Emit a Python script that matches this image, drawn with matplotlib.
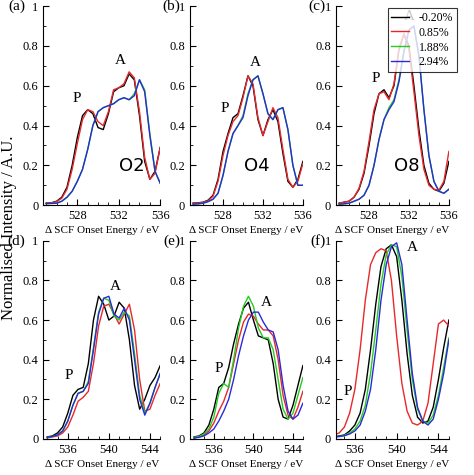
import matplotlib
matplotlib.use("Agg")
import matplotlib.pyplot as plt
import numpy as np

plt.rcParams['font.family'] = ['Liberation Serif', 'DejaVu Serif']
labels = ['-0.20%', '0.85%', '1.88%', '2.94%']
colors = ['black', '#e8282c', '#22cc22', '#2a2ad8']

xt = np.arange(525.0, 536.01, 0.5)
xb = np.arange(534.0, 545.01, 0.5)

a_k = [0.01,0.012,0.02,0.04,0.09,0.2,0.34,0.45,0.48,0.46,0.39,0.38,0.46,0.57,0.59,0.6,0.66,0.63,0.45,0.22,0.13,0.17,0.29]
a_r = [0.01,0.011,0.018,0.035,0.08,0.18,0.31,0.43,0.48,0.47,0.42,0.40,0.47,0.58,0.59,0.61,0.67,0.64,0.47,0.24,0.13,0.16,0.29]
a_b = [0.008,0.009,0.01,0.02,0.04,0.07,0.12,0.18,0.28,0.40,0.47,0.49,0.50,0.51,0.53,0.54,0.53,0.55,0.63,0.57,0.35,0.17,0.11]
a_g = [0.008,0.009,0.01,0.02,0.04,0.07,0.12,0.18,0.28,0.40,0.47,0.49,0.50,0.51,0.53,0.54,0.53,0.56,0.63,0.58,0.36,0.17,0.11]

b_k = [0.01,0.012,0.015,0.025,0.05,0.13,0.27,0.36,0.44,0.46,0.55,0.65,0.6,0.43,0.35,0.43,0.48,0.42,0.26,0.12,0.09,0.13,0.22]
b_r = [0.01,0.011,0.014,0.022,0.045,0.12,0.25,0.35,0.42,0.45,0.54,0.65,0.61,0.44,0.35,0.42,0.49,0.44,0.28,0.13,0.09,0.12,0.21]
b_b = [0.005,0.007,0.01,0.018,0.03,0.06,0.15,0.27,0.36,0.40,0.44,0.55,0.63,0.65,0.56,0.46,0.43,0.48,0.49,0.38,0.2,0.1,0.1]
b_g = [0.005,0.007,0.01,0.018,0.03,0.06,0.15,0.27,0.36,0.40,0.45,0.56,0.63,0.65,0.56,0.46,0.43,0.48,0.49,0.38,0.2,0.1,0.1]

c_k = [0.01,0.015,0.02,0.04,0.08,0.16,0.3,0.46,0.56,0.58,0.54,0.6,0.78,0.86,0.8,0.6,0.38,0.2,0.11,0.08,0.07,0.11,0.22]
c_r = [0.01,0.015,0.02,0.04,0.085,0.17,0.32,0.48,0.56,0.57,0.53,0.61,0.79,0.86,0.78,0.57,0.35,0.18,0.1,0.08,0.075,0.12,0.27]
c_b = [0.005,0.007,0.01,0.02,0.03,0.05,0.1,0.2,0.33,0.43,0.48,0.52,0.62,0.77,0.88,0.9,0.75,0.48,0.25,0.12,0.07,0.06,0.08]
c_g = [0.005,0.007,0.01,0.02,0.03,0.05,0.1,0.2,0.33,0.43,0.49,0.53,0.63,0.78,0.88,0.9,0.75,0.48,0.25,0.12,0.07,0.06,0.08]

d_k = [0.01,0.015,0.03,0.06,0.13,0.22,0.25,0.26,0.38,0.6,0.72,0.68,0.6,0.62,0.69,0.66,0.5,0.27,0.15,0.2,0.27,0.31,0.37]
d_r = [0.005,0.01,0.015,0.03,0.06,0.12,0.19,0.21,0.24,0.38,0.57,0.67,0.68,0.63,0.58,0.63,0.68,0.55,0.3,0.14,0.15,0.22,0.28]
d_g = [0.008,0.012,0.02,0.04,0.09,0.17,0.23,0.24,0.29,0.46,0.64,0.71,0.70,0.62,0.60,0.64,0.62,0.43,0.22,0.13,0.18,0.26,0.33]
d_b = [0.008,0.012,0.02,0.04,0.09,0.17,0.23,0.24,0.28,0.45,0.63,0.71,0.72,0.63,0.61,0.66,0.6,0.4,0.2,0.12,0.18,0.26,0.33]

e_k = [0.01,0.015,0.03,0.07,0.15,0.26,0.28,0.36,0.48,0.58,0.66,0.69,0.6,0.52,0.51,0.5,0.38,0.2,0.11,0.1,0.17,0.27,0.37]
e_r = [0.005,0.01,0.02,0.04,0.08,0.14,0.19,0.26,0.38,0.5,0.59,0.63,0.62,0.58,0.55,0.55,0.52,0.4,0.22,0.12,0.1,0.16,0.24]
e_g = [0.008,0.012,0.025,0.05,0.11,0.23,0.28,0.26,0.4,0.56,0.67,0.72,0.67,0.56,0.51,0.51,0.45,0.3,0.15,0.1,0.13,0.22,0.31]
e_b = [0.004,0.008,0.015,0.03,0.05,0.09,0.14,0.2,0.3,0.42,0.52,0.6,0.64,0.64,0.59,0.55,0.54,0.45,0.27,0.14,0.1,0.12,0.18]

f_k = [0.01,0.015,0.02,0.04,0.07,0.13,0.25,0.45,0.68,0.87,0.96,0.98,0.92,0.7,0.43,0.22,0.11,0.08,0.09,0.16,0.3,0.46,0.6]
f_r = [0.02,0.03,0.06,0.13,0.25,0.45,0.7,0.88,0.94,0.96,0.95,0.8,0.52,0.28,0.14,0.08,0.07,0.09,0.18,0.38,0.58,0.6,0.57]
f_g = [0.01,0.012,0.018,0.03,0.05,0.09,0.17,0.33,0.55,0.78,0.93,0.98,0.97,0.82,0.55,0.3,0.15,0.09,0.08,0.12,0.22,0.36,0.51]
f_b = [0.01,0.012,0.016,0.025,0.04,0.07,0.14,0.25,0.45,0.7,0.88,0.97,0.99,0.88,0.6,0.33,0.16,0.09,0.07,0.1,0.2,0.33,0.5]

panels = [
    ('(a)', xt, [a_k, a_r, a_g, a_b], (524.7, 536), [528, 532, 536], 'O2', (533.3, 0.17), [('P', 527.9, 0.52), ('A', 532.2, 0.71)]),
    ('(b)', xt, [b_k, b_r, b_g, b_b], (524.7, 536), [528, 532, 536], 'O4', (531.4, 0.17), [('P', 528.2, 0.47), ('A', 531.2, 0.7)]),
    ('(c)', xt, [c_k, c_r, c_g, c_b], (524.7, 536), [528, 532, 536], 'O8', (531.8, 0.17), [('P', 528.7, 0.62), ('A', 532.0, 0.93)]),
    ('(d)', xb, [d_k, d_r, d_g, d_b], (533.6, 545), [536, 540, 544], None, None, [('P', 536.1, 0.3), ('A', 540.6, 0.75)]),
    ('(e)', xb, [e_k, e_r, e_g, e_b], (533.6, 545), [536, 540, 544], None, None, [('P', 536.5, 0.34), ('A', 541.3, 0.67)]),
    ('(f)', xb, [f_k, f_r, f_g, f_b], (534.2, 545), [536, 540, 544], None, None, [('P', 535.3, 0.22), ('A', 541.5, 0.95)]),
]

fig = plt.figure(figsize=(4.74, 4.75), dpi=100)
lefts = [0.091, 0.401, 0.709]
widths = [0.247, 0.238, 0.238]
bottoms = [0.568, 0.076]
heights = [0.419, 0.417]
for i, (tag, x, ys, xl, xtk, name, npos, notes) in enumerate(panels):
    r, c = divmod(i, 3)
    ax = fig.add_axes([lefts[c], bottoms[r], widths[c], heights[r]])
    for y, col, lab in zip(ys, colors, labels):
        ax.plot(x, y, color=col, lw=1.0, label=lab)
    ax.set_xlim(*xl)
    ax.set_ylim(0, 1)
    ax.set_xticks(xtk)
    ax.set_yticks([0, 0.2, 0.4, 0.6, 0.8, 1])
    ax.set_yticklabels(['0', '0.2', '0.4', '0.6', '0.8', '1'])
    ax.set_xticks(np.arange(xl[0] - xl[0] % 1 + 1, xl[1] + 0.01, 1), minor=True)
    ax.set_yticks(np.arange(0, 1.01, 0.1), minor=True)
    ax.tick_params(direction='in', which='both', labelsize=9, top=False, right=False)
    ax.tick_params(which='major', length=4)
    ax.tick_params(which='minor', length=2)
    for s in ['top', 'right']:
        ax.spines[s].set_visible(False)
    ax.set_xlabel('Δ SCF Onset Energy / eV', fontsize=8, labelpad=3)
    ax.text(-0.15 if c == 0 else -0.09, 1.0, tag, transform=ax.transAxes, fontsize=11,
            va='center', ha='right')
    if name:
        ax.text(npos[0], npos[1], name, fontsize=13, family='DejaVu Sans', ha='center')
    for t, tx, ty in notes:
        ax.text(tx, ty, t, fontsize=11, ha='center')
    if i == 2:
        ax.legend(loc='upper right', bbox_to_anchor=(1.12, 1.02), fontsize=8.5, frameon=True,
                  fancybox=False, edgecolor='black', handlelength=1.5, borderpad=0.3,
                  labelspacing=0.25).get_frame().set_linewidth(0.8)

fig.text(0.018, 0.52, 'Normalised Intensity / A.U.', rotation=90, fontsize=12, va='center', ha='center')
fig.savefig('out.png', dpi=100)
